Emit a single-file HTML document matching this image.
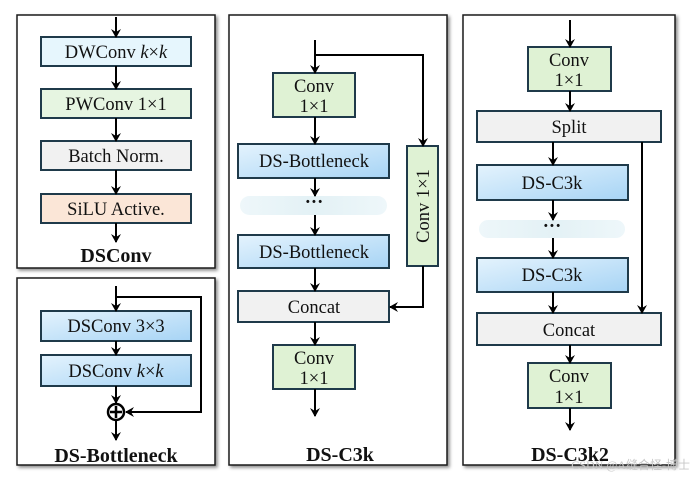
<!DOCTYPE html>
<html><head><meta charset="utf-8"><style>
html,body{margin:0;padding:0;background:#fff;}
svg text{font-family:"Liberation Serif","Times New Roman",serif;}
</style></head><body>
<svg width="695" height="480" viewBox="0 0 695 480" xmlns="http://www.w3.org/2000/svg" font-family="Liberation Serif, serif">
<defs>
<linearGradient id="bl" x1="0" y1="0" x2="1" y2="1">
<stop offset="0" stop-color="#e4f3fd"/><stop offset="1" stop-color="#a7d4f5"/>
</linearGradient>
<linearGradient id="dots" x1="0" y1="0" x2="1" y2="0">
<stop offset="0" stop-color="#eef7fa"/><stop offset="0.5" stop-color="#e3f1f5"/><stop offset="1" stop-color="#eef7fa"/>
</linearGradient>
<marker id="a" markerWidth="10" markerHeight="10" refX="8" refY="5" orient="auto" markerUnits="userSpaceOnUse">
<path d="M0,0 L9,5 L0,10 L3,5 Z" fill="#000"/>
</marker>
<filter id="sh" x="-5%" y="-5%" width="110%" height="110%">
<feDropShadow dx="2" dy="2" stdDeviation="1.5" flood-color="#000" flood-opacity="0.45"/>
</filter>
</defs>
<g fill="#fff" stroke="#1a1a1a" stroke-width="1.5" filter="url(#sh)">
<rect x="17" y="15" width="198" height="253"/>
<rect x="17" y="278" width="198" height="187"/>
<rect x="229" y="15" width="218" height="450"/>
<rect x="463" y="15" width="212" height="450"/>
</g>
<g stroke="#1f3a4a" stroke-width="2">
<rect x="41" y="37" width="150" height="29" fill="#e6f6fd"/>
<rect x="41" y="89" width="150" height="29" fill="#e6f5e1"/>
<rect x="41" y="141" width="150" height="29" fill="#f1f1f1"/>
<rect x="41" y="194" width="150" height="29" fill="#fbe6d7"/>
<rect x="41" y="311" width="150" height="30" fill="url(#bl)"/>
<rect x="41" y="355" width="150" height="31" fill="url(#bl)"/>
<rect x="273" y="73" width="82" height="44" fill="#dff2d4"/>
<rect x="238" y="144" width="151" height="34" fill="url(#bl)"/>
<rect x="238" y="235" width="151" height="33" fill="url(#bl)"/>
<rect x="238" y="291" width="151" height="31" fill="#f1f1f1"/>
<rect x="273" y="345" width="82" height="44" fill="#dff2d4"/>
<rect x="407" y="146" width="31" height="120" fill="#dff2d4"/>
<rect x="528" y="47" width="83" height="44" fill="#dff2d4"/>
<rect x="477" y="111" width="184" height="31" fill="#f1f1f1"/>
<rect x="477" y="165" width="151" height="35" fill="url(#bl)"/>
<rect x="477" y="258" width="151" height="34" fill="url(#bl)"/>
<rect x="477" y="313" width="184" height="32" fill="#f1f1f1"/>
<rect x="528" y="363" width="83" height="45" fill="#dff2d4"/>
</g>
<rect x="240" y="196" width="147" height="19" rx="9.5" fill="url(#dots)"/>
<rect x="479" y="220" width="146" height="18" rx="9" fill="url(#dots)"/>
<g stroke="#000" stroke-width="2" fill="none" marker-end="url(#a)">
<line x1="116" y1="17" x2="116" y2="37"/>
<line x1="116" y1="66" x2="116" y2="89"/>
<line x1="116" y1="118" x2="116" y2="141"/>
<line x1="116" y1="170" x2="116" y2="194"/>
<line x1="116" y1="223" x2="116" y2="242"/>
<line x1="116" y1="286" x2="116" y2="311"/>
<line x1="116" y1="341" x2="116" y2="355"/>
<line x1="116" y1="386" x2="116" y2="403"/>
<line x1="116" y1="421" x2="116" y2="440"/>
<polyline points="116,297 201,297 201,412 126,412"/>
<line x1="315" y1="40" x2="315" y2="73"/>
<polyline points="315,55 423,55 423,146"/>
<line x1="315" y1="117" x2="315" y2="144"/>
<line x1="315" y1="178" x2="315" y2="196"/>
<line x1="315" y1="215" x2="315" y2="235"/>
<line x1="315" y1="268" x2="315" y2="291"/>
<polyline points="423,266 423,307 390,307"/>
<line x1="315" y1="322" x2="315" y2="345"/>
<line x1="315" y1="389" x2="315" y2="416"/>
<line x1="570" y1="20" x2="570" y2="47"/>
<line x1="570" y1="91" x2="570" y2="111"/>
<line x1="553" y1="142" x2="553" y2="165"/>
<line x1="553" y1="200" x2="553" y2="220"/>
<line x1="553" y1="238" x2="553" y2="258"/>
<line x1="553" y1="292" x2="553" y2="313"/>
<line x1="642" y1="142" x2="642" y2="313"/>
<line x1="570" y1="345" x2="570" y2="363"/>
<line x1="570" y1="408" x2="570" y2="430"/>
</g>
<circle cx="116" cy="412" r="8" fill="#fff" stroke="#000" stroke-width="2.5"/>
<line x1="110" y1="412" x2="122" y2="412" stroke="#000" stroke-width="2.5"/>
<line x1="116" y1="406" x2="116" y2="418" stroke="#000" stroke-width="2.5"/>
<g font-size="18.5" fill="#111" text-anchor="middle" font-family="Liberation Serif, serif">
<text x="116" y="58">DWConv <tspan font-style="italic">k</tspan>×<tspan font-style="italic">k</tspan></text>
<text x="116" y="110">PWConv 1×1</text>
<text x="116" y="162">Batch Norm.</text>
<text x="116" y="215">SiLU Active.</text>
<text x="116" y="332">DSConv 3×3</text>
<text x="116" y="377">DSConv <tspan font-style="italic">k</tspan>×<tspan font-style="italic">k</tspan></text>
<text x="314" y="92">Conv</text><text x="314" y="112">1×1</text>
<text x="314" y="167">DS-Bottleneck</text>
<text x="314" y="208" font-weight="bold">···</text>
<text x="314" y="258">DS-Bottleneck</text>
<text x="314" y="313">Concat</text>
<text x="314" y="364">Conv</text><text x="314" y="384">1×1</text>
<text x="429" y="206" transform="rotate(-90 429 206)">Conv 1×1</text>
<text x="569" y="66">Conv</text><text x="569" y="86">1×1</text>
<text x="569" y="133">Split</text>
<text x="552" y="189">DS-C3k</text>
<text x="552" y="232" font-weight="bold">···</text>
<text x="552" y="281">DS-C3k</text>
<text x="569" y="336">Concat</text>
<text x="569" y="382">Conv</text><text x="569" y="403">1×1</text>
</g>
<g font-size="20" font-weight="bold" fill="#111" text-anchor="middle" font-family="Liberation Serif, serif">
<text x="116" y="262">DSConv</text>
<text x="116" y="462">DS-Bottleneck</text>
<text x="340" y="461">DS-C3k</text>
<text x="570" y="461">DS-C3k2</text>
</g>
<text x="690" y="469" font-size="12" fill="#c8c8c8" text-anchor="end" font-family="Liberation Sans, Noto Sans CJK SC, sans-serif">CSDN @A缝合怪-博士</text>
</svg>
</body></html>
